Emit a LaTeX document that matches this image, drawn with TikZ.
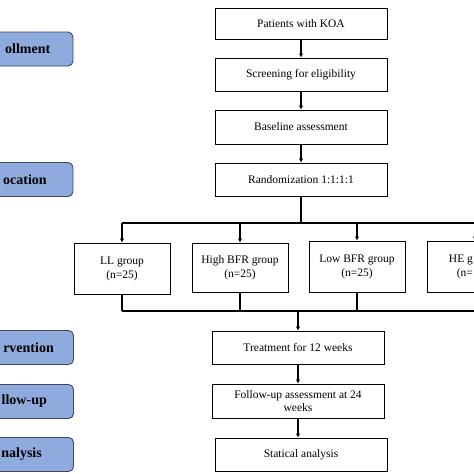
\documentclass[tikz,border=0pt]{standalone}
\usepackage{fontspec}
\setmainfont{Liberation Serif}
\usepackage{tikz}
\usetikzlibrary{arrows.meta}
\definecolor{phasefill}{RGB}{143,170,220}
\definecolor{phaseline}{RGB}{60,72,100}

\begin{document}
\begin{tikzpicture}[x=1pt, y=-1pt,
            stepbox/.style={draw, line width=0.9pt, minimum width=172pt, minimum height=33pt, inner sep=2pt, align=center, font=\fontsize{11.5}{13}\selectfont},
            groupbox/.style={draw, line width=0.9pt, minimum width=96pt, minimum height=51pt, inner sep=2pt, align=center, font=\fontsize{11.5}{14}\selectfont},
            phase/.style={draw=phaseline, fill=phasefill, line width=0.9pt, rounded corners=5pt, minimum width=114pt, minimum height=34pt, font=\fontsize{14}{16}\selectfont\bfseries},
            link/.style={line width=1.2pt},
            arr/.style={line width=1.2pt, -{Latex[length=4pt,width=4.5pt]}}]
            \useasboundingbox (0,0) rectangle (474,474);
            \clip (0,0) rectangle (474,474);
            % phases on the left (cut by the left edge)
            \node [phase] (enrol) at (16,49) {\phantom{Enr}ollment};
            \node [phase] (alloc) at (16,179.5) {\phantom{All}ocation};
            \node [phase] (interv) at (16.5,347.5) {\phantom{Inte}rvention};
            \node [phase] (follow) at (16.5,401.5) {\phantom{Fo}llow-up};
            \node [phase] (anal) at (16.5,454.5) {\phantom{A}nalysis};
            % main column
            \node [stepbox, minimum height=31pt] (koa) at (301,23.5) {Patients with KOA};
            \node [stepbox] (screen) at (301,74.5) {Screening for eligibility};
            \node [stepbox, minimum height=34pt] (base) at (301,127) {Baseline assessment};
            \node [stepbox] (rand) at (301,179.5) {Randomization 1:1:1:1};
            \node [groupbox] (ll) at (122,268.5) {LL group\\(n=25)};
            \node [groupbox, minimum height=49pt] (high) at (240,267.5) {High BFR group\\(n=25)};
            \node [groupbox] (low) at (357,266.5) {Low BFR group\\(n=25)};
            \node [groupbox] (he) at (475,266.5) {HE g\phantom{roup}\kern7pt\\(n=\phantom{25)}\kern5pt};
            \node [stepbox] (treat) at (298,347.5) {Treatment for 12 weeks};
            \node [stepbox, minimum height=34pt, font=\fontsize{11.5}{12.5}\selectfont] (fup) at (298,401) {Follow-up assessment at 24\\weeks};
            \node [stepbox] (stat) at (301,454.5) {Statical analysis};
            \coordinate (split) at (301,223);
            \coordinate (join) at (298,311);
            % connectors
            \draw [arr] (koa) -- (screen);
            \draw [arr] (screen) -- (base);
            \draw [arr] (base) -- (rand);
            \draw [link] (rand.south) -- (split);
            \draw [link] (ll.north |- split) -- (he.north |- split);
            \foreach \g in {ll, high, low, he}
                \draw [arr] (\g.north |- split) -- (\g.north);
            \foreach \g in {ll, high, low, he}
                \draw [link] (\g.south) -- (\g.south |- join);
            \draw [link] (ll.south |- join) -- (he.south |- join);
            \draw [arr] (join) -- (treat.north -| join);
            \draw [arr] (treat.south -| join) -- (fup.north -| join);
            \draw [arr] (fup.south -| join) -- (stat.north -| join);
        \end{tikzpicture}
\end{document}
